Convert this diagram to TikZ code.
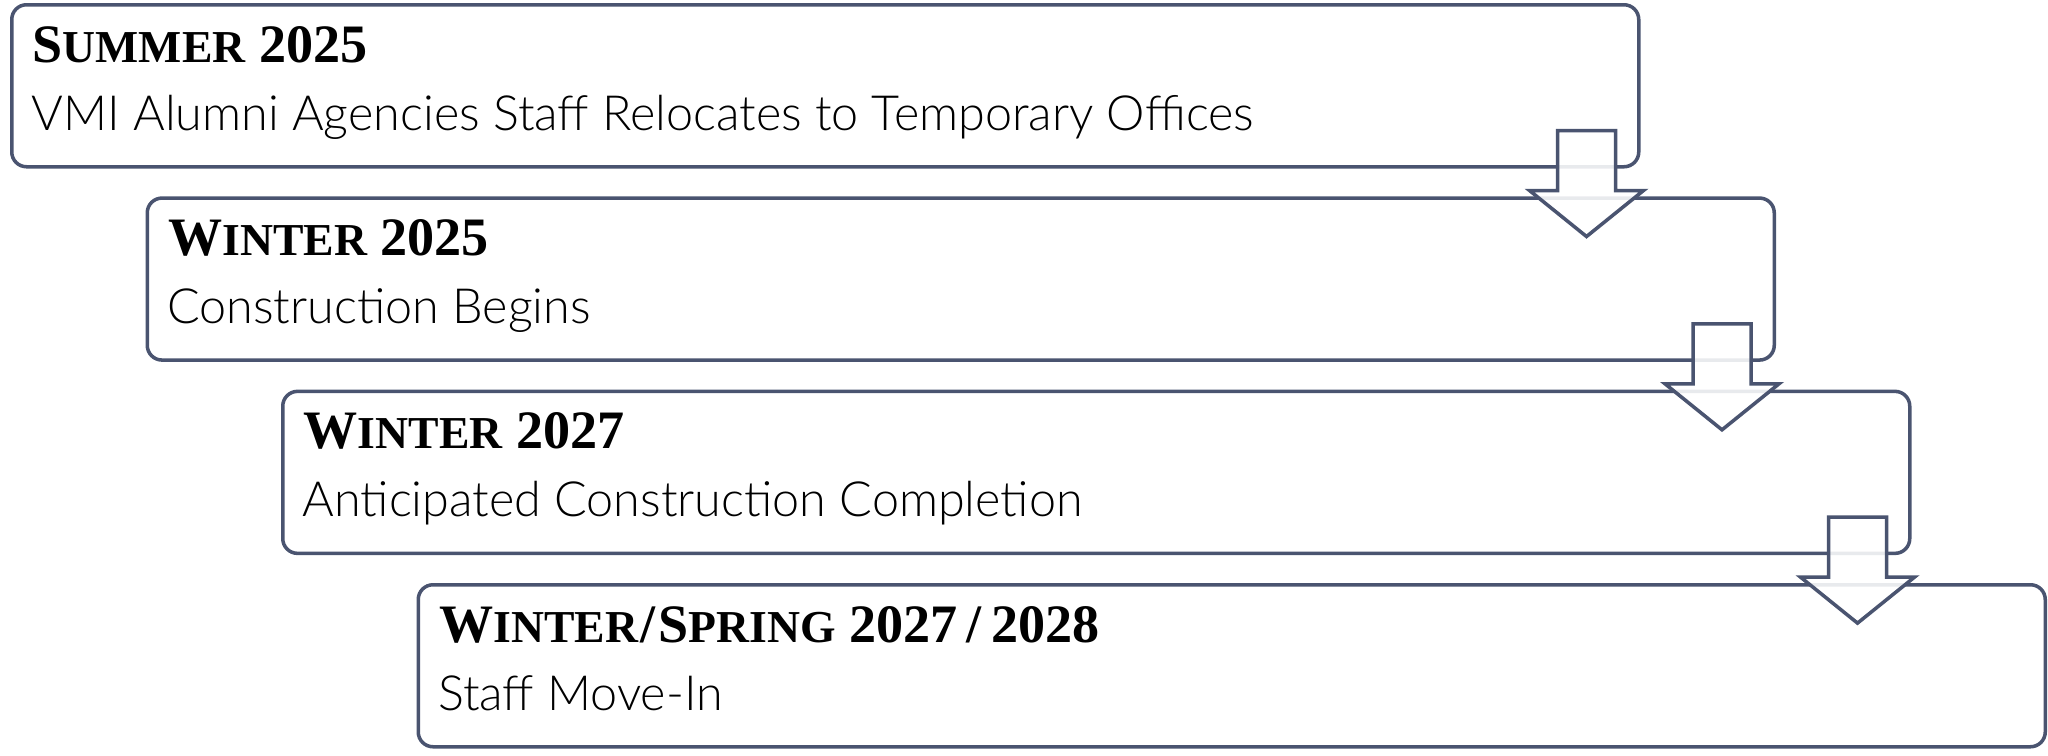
\documentclass[tikz,border=0pt]{standalone}
\usepackage{fontspec}
\setmainfont{Liberation Serif}
\newfontfamily\bodyfont{Lato Light}
\newfontfamily\titlefont{Liberation Serif Bold}
\usetikzlibrary{calc}
\definecolor{edge}{RGB}{74,84,112}
\newcommand{\fsc}[2]{#1{\fontsize{13pt}{13pt}\selectfont #2}}
\newcommand{\tslash}{\kern2.6pt/\kern2.6pt}
\newcommand{\wslash}{\kern0.8pt/\kern0.8pt}
\tikzset{
  stagebox/.style={draw=edge, line width=1pt, rounded corners=4.2pt, fill=white,
    minimum width=16.27cm, minimum height=1.62cm, anchor=north west, inner sep=0pt},
  titletext/.style={anchor=base west, inner sep=0pt, font=\titlefont\fontsize{15.4pt}{15.4pt}\selectfont},
  bodytext/.style={anchor=base west, inner sep=0pt, font=\fontsize{13.8pt}{13.8pt}\selectfont\bodyfont},
  blockarrow/.style={draw=edge, line width=1pt, fill=white, fill opacity=0.88, line join=miter}
}
\newcommand{\downarrowshape}[2]{% #1 = box above, #2 = name of stem coordinate
  \coordinate (#2) at ($(#1.south east)+(-0.54,0.38)$);
  \draw[blockarrow] ($(#2)+(-0.29,0)$) -- ($(#2)+(0.29,0)$) -- ($(#2)+(0.29,-0.60)$)
    -- ($(#2)+(0.57,-0.60)$) -- ($(#2)+(0,-1.06)$) -- ($(#2)+(-0.57,-0.60)$)
    -- ($(#2)+(-0.29,-0.60)$) -- cycle;
}
\begin{document}
\begin{tikzpicture}[x=1cm,y=1cm]
\useasboundingbox (0,0) rectangle (20.48,-7.56);
\node[stagebox] (b1) at (0.10,-0.03) {};
\node[stagebox] (b2) at (1.455,-1.963) {};
\node[stagebox] (b3) at (2.81,-3.896) {};
\node[stagebox] (b4) at (4.165,-5.83) {};
\foreach \b/\t/\s in {
  b1/{\fsc{S}{UMMER} 2025}/{VMI Alumni Agencies Staff Relocates to Temporary Offices},
  b2/{\fsc{W}{INTER} 2025}/{Construction Begins},
  b3/{\fsc{W}{INTER} 2027}/{Anticipated Construction Completion},
  b4/{\fsc{W}{INTER}\wslash\fsc{S}{PRING} 2027\tslash 2028}/{Staff Move-In}}{
  \node[titletext] (\b t) at ($(\b.north west)+(0.22,-0.59)$) {\t};
  \node[bodytext] (\b s) at ($(\b.north west)+(0.21,-1.27)$) {\s};
}
\downarrowshape{b1}{a1}
\downarrowshape{b2}{a2}
\downarrowshape{b3}{a3}
\end{tikzpicture}
\end{document}
